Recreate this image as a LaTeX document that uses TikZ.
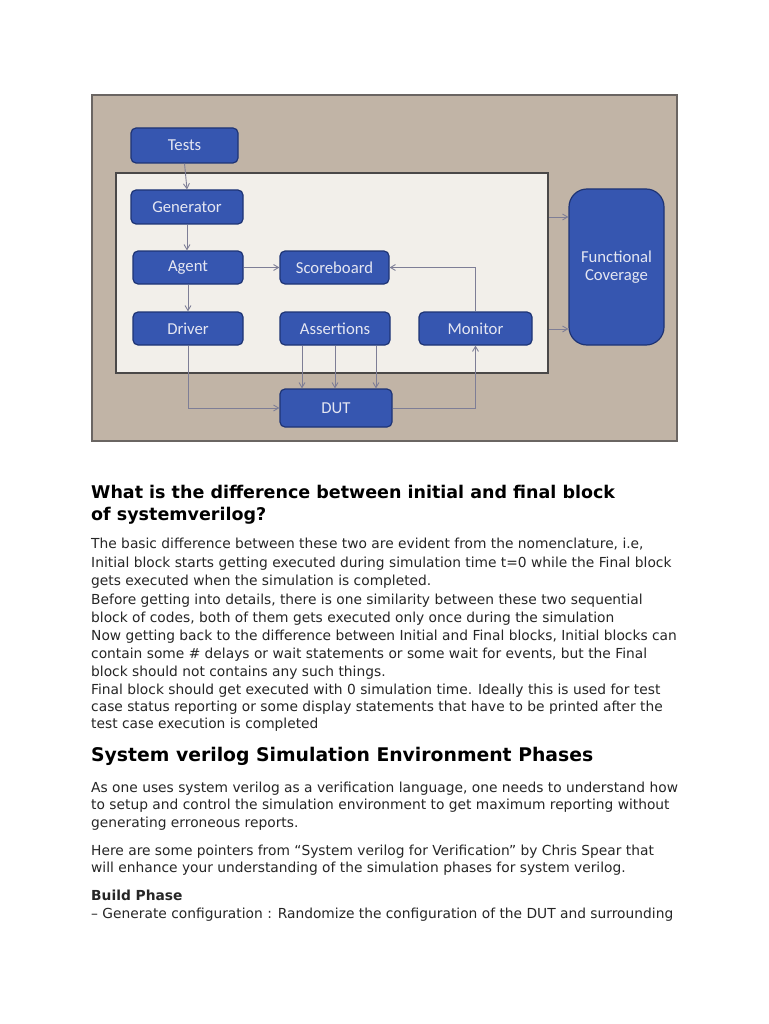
\documentclass[tikz,border=0pt]{standalone}
\usepackage{fontspec}
\setmainfont{DejaVu Sans}
\newfontfamily\diagfont{Carlito}
\usetikzlibrary{arrows.meta}
\definecolor{framefill}{HTML}{C1B4A6}
\definecolor{frameline}{HTML}{6A6562}
\definecolor{panelfill}{HTML}{F2EFEA}
\definecolor{panelline}{HTML}{4A4848}
\definecolor{boxfill}{HTML}{3656B0}
\definecolor{boxline}{HTML}{1E3475}
\definecolor{boxtext}{HTML}{E4E6F2}
\definecolor{arrcol}{HTML}{7E7E96}
\definecolor{bodytext}{HTML}{262626}
\begin{document}
\begin{tikzpicture}[x=1pt,y=-1pt,
  blk/.style={draw=boxline, line width=1.2pt, fill=boxfill, rounded corners=5pt,
    text=boxtext, font=\diagfont\fontsize{16.7}{19}\selectfont, inner sep=0pt},
  arr/.style={draw=arrcol, line width=0.9pt, -{Straight Barb[length=5pt,width=6pt]}},
  body/.style={anchor=base west, inner sep=0pt, text=bodytext, font=\fontsize{13.8}{16}\selectfont},
  head/.style={anchor=base west, inner sep=0pt, text=black, font=\bfseries\fontsize{17.5}{20}\selectfont},
]
\useasboundingbox (0,0) rectangle (768,1024);
\fill[white] (0,0) rectangle (768,1024);
% frame
\node[draw=frameline, line width=1.5pt, fill=framefill, minimum width=585pt, minimum height=346pt, inner sep=0pt] (frame) at (384.5,268) {};
\node[draw=panelline, line width=1.5pt, fill=panelfill, minimum width=432pt, minimum height=200pt, inner sep=0pt] (env) at (332,273) {};
% boxes
\node[blk, minimum width=107pt, minimum height=35pt] (tests) at (184.5,145.5) {Tests};
\node[blk, minimum width=112pt, minimum height=34pt] (gen) at (187,207) {Generator};
\node[blk, minimum width=110pt, minimum height=33pt] (agent) at (188,267.5) {Agent};
\node[blk, minimum width=109pt, minimum height=33pt] (score) at (334.5,267.5) {Scoreboard};
\node[blk, minimum width=110pt, minimum height=33pt] (driver) at (188,328.5) {Driver};
\node[blk, minimum width=110pt, minimum height=33pt] (assert) at (335,328.5) {Assertions};
\node[blk, minimum width=113pt, minimum height=33pt] (monitor) at (475.5,328.5) {Monitor};
\node[blk, minimum width=112pt, minimum height=38pt] (dut) at (336,408) {DUT};
\node[blk, rounded corners=18pt, minimum width=95pt, minimum height=156pt, align=center] (cov) at (616.5,267)
  {Functional\\[-0.5pt]Coverage};
% connectors
\draw[arr] (tests.south) -- (gen.north);
\draw[arr] (gen.south) -- (gen.south |- agent.north);
\draw[arr] (agent.east) -- (score.west);
\draw[arr] (agent.south) -- (driver.north);
\draw[arr] (driver.south) |- (dut.west);
\draw[arr] ([xshift=-33pt]assert.south) -- ([xshift=-34pt]dut.north);
\draw[arr] (assert.south) -- ([xshift=-1pt]dut.north);
\draw[arr] ([xshift=41pt]assert.south) -- ([xshift=40pt]dut.north);
\draw[arr] (dut.east) -| (monitor.south);
\draw[arr] (monitor.north) |- (score.east);
\draw[arr] (env.east |- 0,217) -- (cov.west |- 0,217);
\draw[arr] (env.east |- 0,329) -- (cov.west |- 0,329);
% text
\node[head] (h1a) at (91,498) {What is the difference between initial and final block};
\node[head] (h1b) at (91,520) {of systemverilog?};
\node[body] (p1) at (91,548) {The basic difference between these two are evident from the nomenclature, i.e,};
\node[body] (p2) at (91,567) {Initial block starts getting executed during simulation time t=0 while the Final block};
\node[body] (p3) at (91,585) {gets executed when the simulation is completed.};
\node[body] (p4) at (91,604) {Before getting into details, there is one similarity between these two sequential};
\node[body] (p5) at (91,622) {block of codes, both of them gets executed only once during the simulation};
\node[body] (p6) at (91,640) {Now getting back to the difference between Initial and Final blocks, Initial blocks can};
\node[body] (p7) at (91,658) {contain some \# delays or wait statements or some wait for events, but the Final};
\node[body] (p8) at (91,676) {block should not contains any such things.};
\node[body] (p9) at (91,694) {Final block should get executed with 0 simulation time. Ideally this is used for test};
\node[body] (p10) at (91,711) {case status reporting or some display statements that have to be printed after the};
\node[body] (p11) at (91,728) {test case execution is completed};
\node[head, font=\bfseries\fontsize{18.8}{22}\selectfont] (h2) at (91,761) {System verilog Simulation Environment Phases};
\node[body] (q1) at (91,792) {As one uses system verilog as a verification language, one needs to understand how};
\node[body] (q2) at (91,809) {to setup and control the simulation environment to get maximum reporting without};
\node[body] (q3) at (91,827) {generating erroneous reports.};
\node[body] (q4) at (91,855) {Here are some pointers from “System verilog for Verification” by Chris Spear that};
\node[body] (q5) at (91,872) {will enhance your understanding of the simulation phases for system verilog.};
\node[body, font=\bfseries\fontsize{13.8}{16}\selectfont] (q6) at (91,900) {Build Phase};
\node[body] (q7) at (91,918) {– Generate configuration : Randomize the configuration of the DUT and surrounding};
\end{tikzpicture}
\end{document}
